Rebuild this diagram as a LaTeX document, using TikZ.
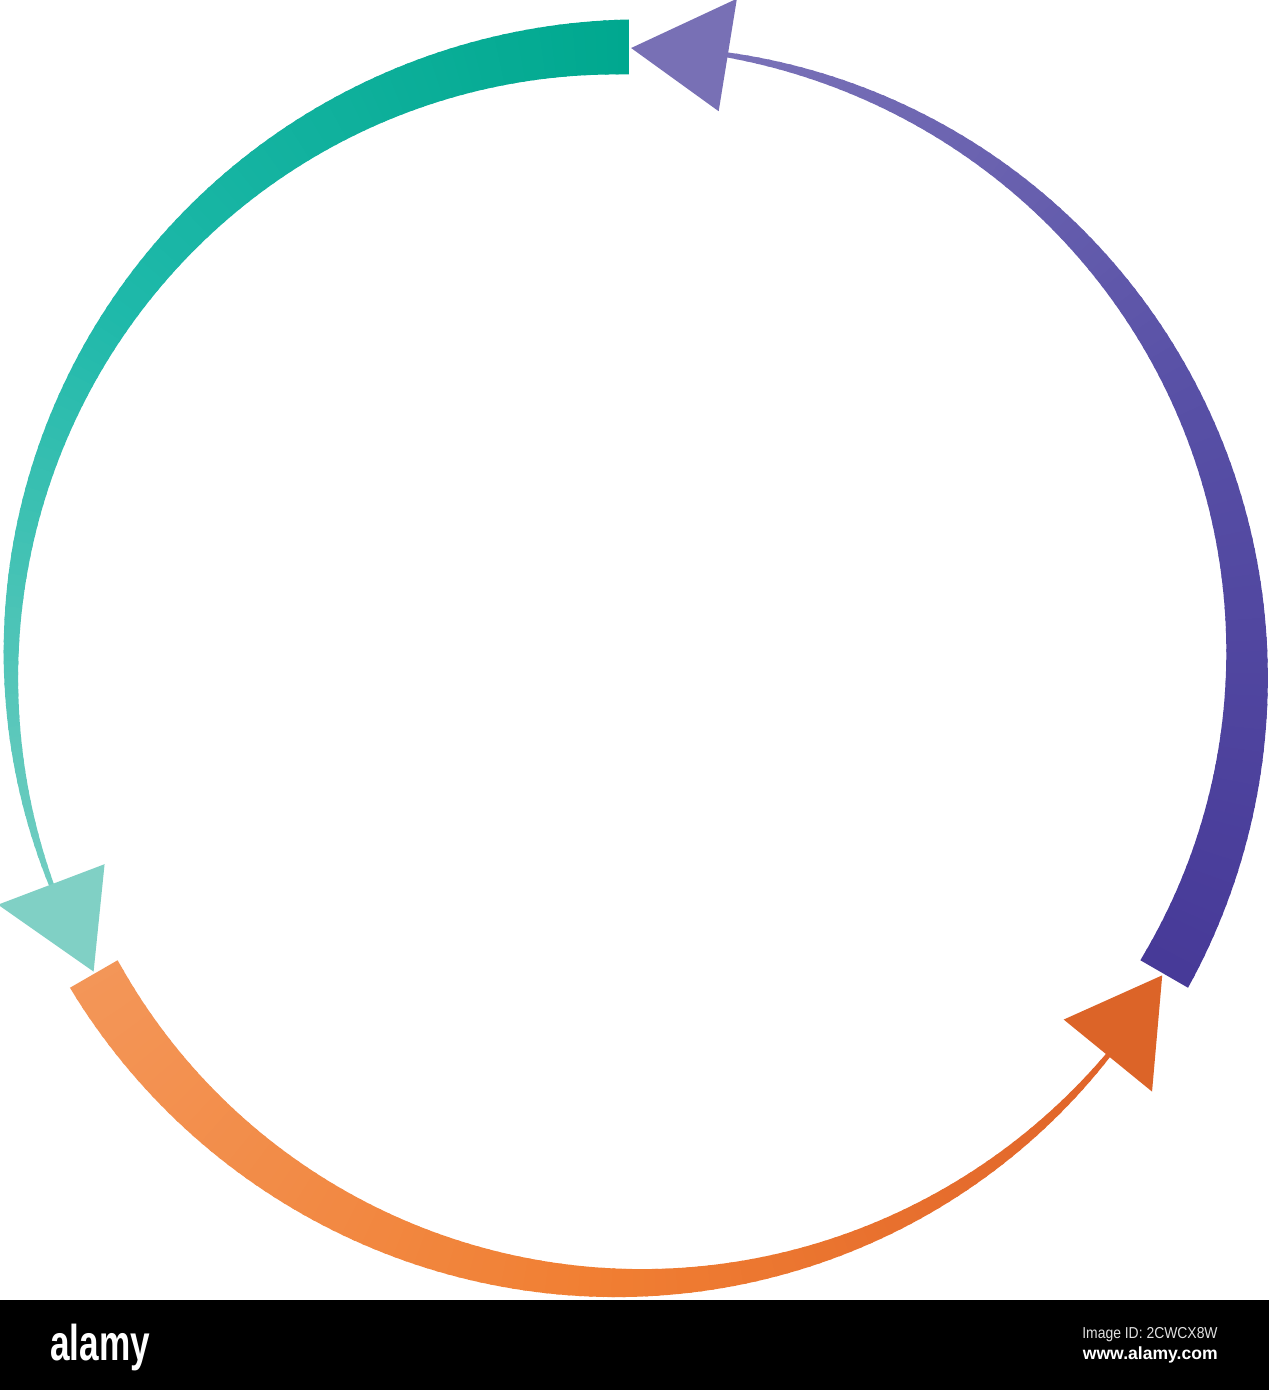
\documentclass[tikz,border=0pt]{standalone}
\usepackage{fontspec}
\setmainfont{Liberation Sans}
\definecolor{gT}{HTML}{00A88F}
\definecolor{gM}{HTML}{1FB9AA}
\definecolor{gH}{HTML}{70CDC1}
\definecolor{gA}{HTML}{80D0C5}
\definecolor{pT}{HTML}{473A98}
\definecolor{pM}{HTML}{5850A6}
\definecolor{pH}{HTML}{7A72B8}
\definecolor{pA}{HTML}{7870B5}
\definecolor{oT}{HTML}{F39658}
\definecolor{oM}{HTML}{F17F33}
\definecolor{oH}{HTML}{E0642A}
\definecolor{oA}{HTML}{DC6428}
\newcommand\taperarrow[5]{% #1 tail angle, #2 tail col, #3 mid col, #4 head col, #5 tip col
  \foreach \i in {0,...,109}{%
    \pgfmathsetmacro\aA{#1+\i*110.8/110}%
    \pgfmathsetmacro\aB{#1+(\i+1)*110.8/110+0.3}%
    \pgfmathsetmacro\wA{(55-50*\i/110)/2}%
    \pgfmathsetmacro\wB{(55-50*(\i+1)/110)/2}%
    \pgfmathsetmacro\rAi{618-\wA}\pgfmathsetmacro\rAo{618+\wA}%
    \pgfmathsetmacro\rBi{618-\wB}\pgfmathsetmacro\rBo{618+\wB}%
    \ifnum\i<55
      \pgfmathtruncatemacro\pc{round(100*\i/55)}%
      \colorlet{cc}{#3!\pc!#2}%
    \else
      \pgfmathtruncatemacro\pc{round(100*(\i-55)/54)}%
      \colorlet{cc}{#4!\pc!#3}%
    \fi
    \fill[cc] (\aA:\rAi) -- (\aA:\rAo) -- (\aB:\rBo) -- (\aB:\rBi) -- cycle;
  }%
  \pgfmathsetmacro\bA{#1+110.8}%
  \pgfmathsetmacro\tA{#1+119.8}%
  \fill[#5] (\bA:561) -- (\tA:617) -- (\bA:675) -- cycle;
}
\begin{document}
\begin{tikzpicture}[x=0.02cm,y=0.02cm,
  banner/.style={fill=black},
  wtext/.style={text=white,inner sep=0pt}]
\fill[white] (-629,-725) rectangle (640,665);
\useasboundingbox (-629,-725) rectangle (640,665);
% green arrow (top -> left)
\taperarrow{90}{gT}{gM}{gH}{gA}
% orange arrow (bottom-left -> bottom-right)
\taperarrow{210}{oT}{oM}{oH}{oA}
% purple arrow (bottom-right -> top)
\taperarrow{330}{pT}{pM}{pH}{pA}
% banner
\fill[banner] (-629,-635) rectangle (640,-725);
\node[wtext,anchor=base west] (logo) at (-579,-695)
  {\scalebox{0.7}[1]{\fontsize{28.6}{30}\selectfont\bfseries alamy}};
\node[wtext,text=white!88!black,anchor=base east] (imgid) at (589,-673)
  {\scalebox{0.88}[1]{\fontsize{9}{10}\selectfont Image ID: 2CWCX8W}};
\node[wtext,anchor=base east] (url) at (589,-694)
  {\fontsize{10}{11}\selectfont\bfseries www.alamy.com};
\end{tikzpicture}
\end{document}
